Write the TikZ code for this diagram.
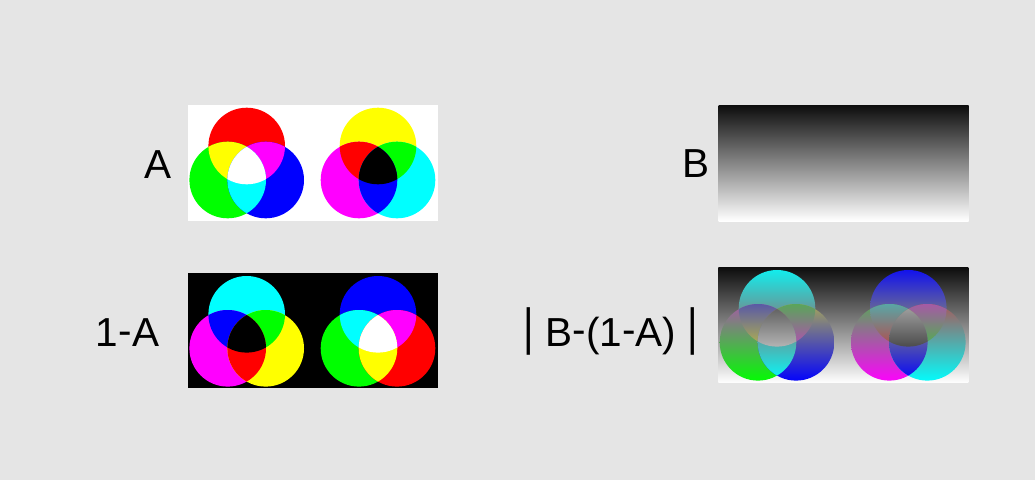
\documentclass[tikz,border=0pt]{standalone}
\usepackage{fontspec}
\setmainfont{Liberation Sans}
\usepackage{graphicx}
\definecolor{bg}{RGB}{229,229,229}
% pure RGB primaries and secondaries
\definecolor{pR}{rgb}{1,0,0}
\definecolor{pG}{rgb}{0,1,0}
\definecolor{pB}{rgb}{0,0,1}
\definecolor{pC}{rgb}{0,1,1}
\definecolor{pM}{rgb}{1,0,1}
\definecolor{pY}{rgb}{1,1,0}
\definecolor{pK}{rgb}{0,0,0}
\definecolor{pW}{rgb}{1,1,1}
% colours of |B-(1-A)|: top (B dark) and bottom (B light) for each colour of 1-A
\definecolor{tK}{rgb}{.05,.05,.05} \definecolor{bK}{rgb}{1,1,1}
\definecolor{tR}{rgb}{.95,.05,.05} \definecolor{bR}{rgb}{0,1,1}
\definecolor{tG}{rgb}{.05,.95,.05} \definecolor{bG}{rgb}{1,0,1}
\definecolor{tB}{rgb}{.05,.05,.95} \definecolor{bB}{rgb}{1,1,0}
\definecolor{tC}{rgb}{.05,.95,.95} \definecolor{bC}{rgb}{1,0,0}
\definecolor{tM}{rgb}{.95,.05,.95} \definecolor{bM}{rgb}{0,1,0}
\definecolor{tY}{rgb}{.95,.95,.05} \definecolor{bY}{rgb}{0,0,1}
\definecolor{tW}{rgb}{.95,.95,.95} \definecolor{bW}{rgb}{0,0,0}
\def\vrad{38.3}
\def\rectW{250}
\def\rectH{116}
\def\grpx{58.7}
\newcommand\vcT{\clip (\grpx,41) circle[radius=\vrad];}
\newcommand\vcL{\clip ({\grpx-19},75) circle[radius=\vrad];}
\newcommand\vcR{\clip ({\grpx+19},75) circle[radius=\vrad];}
\newcommand\vregion[2]{\begin{scope}#1\path[#2] (0,0) rectangle (\rectW,\rectH);\end{scope}}
\newcommand\venn[7]{%
  \vregion{\vcT}{#1}\vregion{\vcL}{#2}\vregion{\vcR}{#3}%
  \vregion{\vcT\vcL}{#4}\vregion{\vcT\vcR}{#5}\vregion{\vcL\vcR}{#6}%
  \vregion{\vcT\vcL\vcR}{#7}}
\newcommand\hy{\raisebox{2.5pt}{-}}
\newcommand\tbar{\raisebox{2.2pt}{\scalebox{1}[1.255]{|}}}
\tikzset{
  ff/.style={fill=p#1},
  dd/.style={top color=t#1,bottom color=b#1},
  lbl/.style={font=\fontsize{40.5}{40.5}\selectfont, anchor=base, inner sep=0pt, text=black}
}
\begin{document}
\begin{tikzpicture}[x=1pt,y=-1pt]
\fill[bg] (0,0) rectangle (1035,480);
\useasboundingbox (0,0) rectangle (1035,480);
% A
\begin{scope}[shift={(188,105)}]
  \def\rectH{116}
  \fill[pW] (0,0) rectangle (\rectW,\rectH);
  \def\grpx{58.7}
  \venn{ff=R}{ff=G}{ff=B}{ff=Y}{ff=M}{ff=C}{ff=W}
  \def\grpx{190}
  \venn{ff=Y}{ff=M}{ff=C}{ff=R}{ff=G}{ff=B}{ff=K}
\end{scope}
% B
\begin{scope}[shift={(718.5,105)}]
  \def\rectH{116}
  \shade[dd=K] (0,0) rectangle (\rectW,\rectH);
\end{scope}
% 1-A
\begin{scope}[shift={(188,273.3)}]
  \def\rectH{115}
  \fill[pK] (0,0) rectangle (\rectW,\rectH);
  \def\grpx{58.7}
  \venn{ff=C}{ff=M}{ff=Y}{ff=B}{ff=G}{ff=R}{ff=K}
  \def\grpx{190}
  \venn{ff=B}{ff=G}{ff=R}{ff=C}{ff=M}{ff=Y}{ff=W}
\end{scope}
% |B-(1-A)|
\begin{scope}[shift={(718.3,267.3)}]
  \def\rectH{115.5}
  \shade[dd=K] (0,0) rectangle (\rectW,\rectH);
  \def\grpx{58.7}
  \venn{dd=C}{dd=M}{dd=Y}{dd=B}{dd=G}{dd=R}{dd=K}
  \def\grpx{190}
  \venn{dd=B}{dd=G}{dd=R}{dd=C}{dd=M}{dd=Y}{dd=W}
\end{scope}
% labels
\node[lbl] (lA) at (158,178.3) {A};
\node[lbl] (lB) at (696.3,177.7) {B};
\node[lbl] (l1A) at (127.5,346.7) {1\hy A};
\node[lbl] (lD) at (610.8,346.3) {\tbar\ B\hy(1\hy A)\ \tbar};
\end{tikzpicture}
\end{document}
